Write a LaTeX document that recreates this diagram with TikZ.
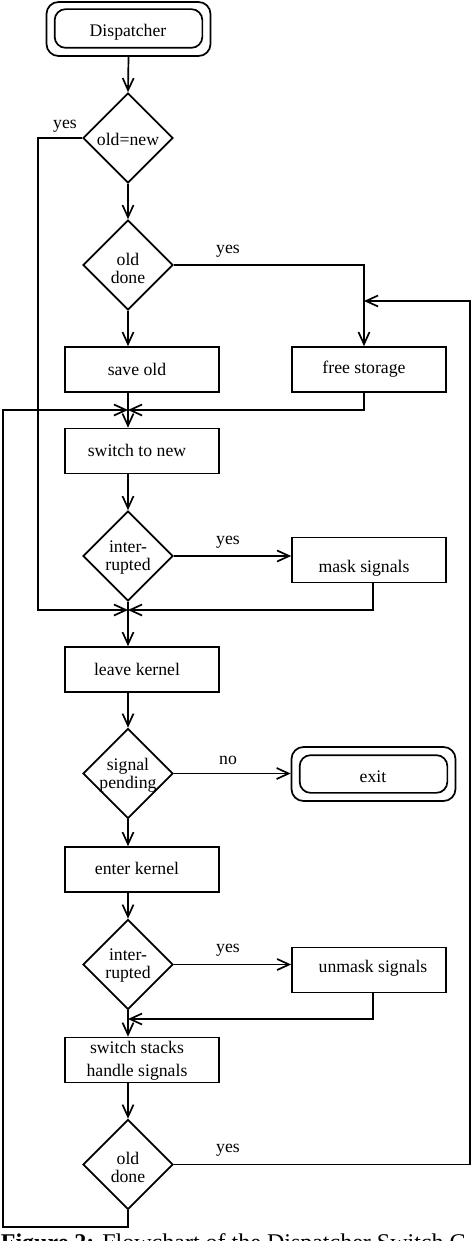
\documentclass[tikz,border=0pt]{standalone}
\usepackage{fontspec}
\setmainfont{Liberation Serif}
\usetikzlibrary{shapes.geometric,arrows.meta}
\begin{document}
\begin{tikzpicture}[x=1pt,y=-1pt,
  line width=1.7pt,
  every node/.style={font=\fontsize{17.7}{18}\selectfont, inner sep=0pt},
  arr/.style={-{Straight Barb[length=12pt,width=11pt,line width=1.7pt]}},
  procbox/.style={draw, rectangle, minimum width=154pt, minimum height=45pt},
  termbox/.style={draw, rectangle, rounded corners=12pt, minimum width=164pt, minimum height=54pt},
  decis/.style={draw, diamond, minimum width=90pt, minimum height=90pt, inner sep=0pt},
  dtext/.style={align=center, font=\fontsize{17.7}{18}\selectfont},
  lbl/.style={font=\fontsize{17.7}{18}\selectfont}
]
\useasboundingbox (0,0) rectangle (474,1241);

% terminals
\node[termbox] (disp) at (128.5,29) {};
\draw[rounded corners=11pt] ([shift={(9,8)}]disp.north west) rectangle ([shift={(-9,-9)}]disp.south east);
\node (disptxt) at (128,32) {Dispatcher};

\node[termbox] (exit) at (373.5,774) {};
\draw[rounded corners=11pt] ([shift={(9,9)}]exit.north west) rectangle ([shift={(-9,-9)}]exit.south east);
\node (exittxt) at (373,777) {exit};

% diamonds
\node[decis] (d1) at (128,138) {};
\node[dtext] (d1t) at (128,139) {old=new};
\node[decis] (d2) at (128,265) {};
\node[dtext] (d2t) at (128,268) {old\\done};
\node[decis] (d3) at (128,556) {};
\node[dtext] (d3t) at (128,558) {inter-\\rupted};
\node[decis] (d4) at (128,773.5) {};
\node[dtext] (d4t) at (128,775) {signal\\pending};
\node[decis] (d5) at (128,964.5) {};
\node[dtext] (d5t) at (128,966) {inter-\\rupted};
\node[decis] (d6) at (128,1164.5) {};
\node[dtext] (d6t) at (128,1167) {old\\done};

% process boxes
\node[procbox] (save) at (142,369.5) {};
\node (savet) at (137,369) {save old};
\node[procbox] (sw) at (142,451) {};
\node (swt) at (137,450) {switch to new};
\node[procbox] (leave) at (142,669.5) {};
\node (leavet) at (137,669) {leave kernel};
\node[procbox] (enter) at (142,869.5) {};
\node (entert) at (137,868) {enter kernel};
\node[procbox] (stacks) at (142,1060) {};
\node[align=center, font=\fontsize{17.7}{23}\selectfont] (stackst) at (137,1061) {switch stacks\\handle signals};

\node[procbox] (free) at (369,369.5) {};
\node (freet) at (364,369) {free storage};
\node[procbox] (mask) at (369,560) {};
\node (maskt) at (364,568) {mask signals};
\node[procbox] (unmask) at (369,970) {};
\node (unmaskt) at (373,968) {unmask signals};

% merge points
\coordinate (m0) at (364,301);
\coordinate (m1) at (128,410);
\coordinate (m2) at (128,610);
\coordinate (m3) at (128,1019);

% connectors
\draw[arr] (disp.south) -- (d1.north);
\draw[arr] (d1.west) -- (38,138) -- (38,610) -- (m2);
\node[lbl] (y1) at (65,126) {yes};
\draw[arr] (d1.south) -- (d2.north);
\draw[arr] (d2.east) -- (364,265) -- (free.north -| m0);
\node[lbl] (y2) at (228,251) {yes};
\draw[arr] (d2.south) -- (save.north -| d2.south);
\draw[arr] (save.south -| d2.south) -- (sw.north -| d2.south);
\draw[arr] (free.south -| m0) -- (364,410) -- (m1);
\draw[arr] (d6.south) -- (128,1227) -- (3,1227) -- (3,410) -- (m1);
\draw[arr] (sw.south -| d3.north) -- (d3.north);
\draw[arr] (d3.east) -- (mask.west |- d3.east);
\node[lbl] (y3) at (228,542) {yes};
\draw[arr] (373,583) -- (373,610) -- (m2);
\draw[arr] (d3.south) -- (leave.north -| d3.south);
\draw[arr] (leave.south -| d4.north) -- (d4.north);
\draw[arr] (d4.east) -- (exit.west |- d4.east);
\node[lbl] (n1) at (228,760) {no};
\draw[arr] (d4.south) -- (enter.north -| d4.south);
\draw[arr] (enter.south -| d5.north) -- (d5.north);
\draw[arr] (d5.east) -- (unmask.west |- d5.east);
\node[lbl] (y4) at (228,950) {yes};
\draw[arr] (373,993) -- (373,1019) -- (m3);
\draw[arr] (d5.south) -- (stacks.north -| d5.south);
\draw[arr] (stacks.south -| d6.north) -- (d6.north);
\draw[arr] (d6.east) -- (470,1164.5) -- (470,301) -- (m0);
\node[lbl] (y5) at (228,1150) {yes};

% caption (cut by the page edge)
\node[anchor=base west, font=\fontsize{24}{26}\selectfont] (cap) at (0,1250) {\textbf{Figure 2:} Flowchart of the Dispatcher Switch C};
\end{tikzpicture}
\end{document}
